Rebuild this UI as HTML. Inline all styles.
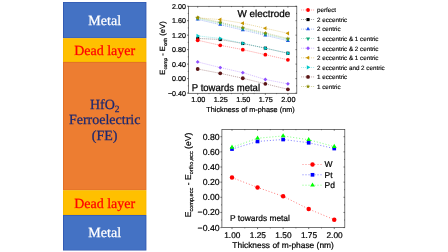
<!DOCTYPE html><html><head><meta charset="utf-8"><style>html,body{margin:0;padding:0;background:#fff}svg{display:block}text{font-family:"Liberation Sans",sans-serif;fill:#000;stroke:#000;stroke-width:0.2px;text-rendering:geometricPrecision}.s{font-family:"Liberation Serif",serif}</style></head><body>
<svg width="448" height="252" viewBox="0 0 448 252">
<rect width="448" height="252" fill="#fff"/>
<rect x="63" y="2" width="83.4" height="36.2" fill="#2f55b0"/>
<rect x="63.8" y="2.6" width="81.80000000000001" height="35.0" fill="#4472c4"/>
<rect x="63" y="38.2" width="83.4" height="23.799999999999997" fill="#f5b400"/>
<rect x="63.8" y="38.800000000000004" width="81.80000000000001" height="22.599999999999998" fill="#ffc000"/>
<rect x="63" y="62" width="83.4" height="128.2" fill="#dc6d22"/>
<rect x="63.8" y="62.6" width="81.80000000000001" height="126.99999999999999" fill="#ed7d31"/>
<rect x="63" y="190.2" width="83.4" height="24.80000000000001" fill="#f5b400"/>
<rect x="63.8" y="190.79999999999998" width="81.80000000000001" height="23.600000000000012" fill="#ffc000"/>
<rect x="63" y="215" width="83.4" height="35.5" fill="#2f55b0"/>
<rect x="63.8" y="215.6" width="81.80000000000001" height="34.3" fill="#4472c4"/>
<text class="s" x="104.7" y="25" font-size="14" text-anchor="middle" style="fill:#fff;stroke:#fff;stroke-width:0.25">Metal</text>
<text class="s" x="104.7" y="55" font-size="14" text-anchor="middle" style="fill:#f00;stroke:#f00;stroke-width:0.25">Dead layer</text>
<text class="s" x="104.7" y="108.75" font-size="14" text-anchor="middle" style="fill:#1c2870;stroke:#1c2870;stroke-width:0.25">HfO<tspan font-size="9.5" dy="2.8">2</tspan></text>
<text class="s" x="104.7" y="124.25" font-size="14" text-anchor="middle" style="fill:#1c2870;stroke:#1c2870;stroke-width:0.25">Ferroelectric</text>
<text class="s" x="104.7" y="140" font-size="14" text-anchor="middle" style="fill:#1c2870;stroke:#1c2870;stroke-width:0.25">(FE)</text>
<text class="s" x="104.7" y="207.75" font-size="14" text-anchor="middle" style="fill:#f00;stroke:#f00;stroke-width:0.25">Dead layer</text>
<text class="s" x="104.7" y="237.25" font-size="14" text-anchor="middle" style="fill:#fff;stroke:#fff;stroke-width:0.25">Metal</text>
<polyline points="197.70,38.42 220.25,39.50 242.80,43.49 265.35,48.19 287.90,53.26" fill="none" stroke="#000000" stroke-width="0.6" stroke-dasharray="1.1,0.9" opacity="0.6"/>
<rect x="196.14" y="36.85" width="3.13" height="3.13" fill="#000000"/>
<rect x="218.69" y="37.94" width="3.13" height="3.13" fill="#000000"/>
<rect x="241.24" y="41.92" width="3.13" height="3.13" fill="#000000"/>
<rect x="263.79" y="46.63" width="3.13" height="3.13" fill="#000000"/>
<rect x="286.34" y="51.70" width="3.13" height="3.13" fill="#000000"/>
<polyline points="197.70,40.23 220.25,45.30 242.80,49.64 265.35,54.71 287.90,59.78" fill="none" stroke="#ff0000" stroke-width="0.6" stroke-dasharray="1.1,0.9" opacity="0.6"/>
<circle cx="197.70" cy="40.23" r="1.90" fill="#ff0000"/>
<circle cx="220.25" cy="45.30" r="1.90" fill="#ff0000"/>
<circle cx="242.80" cy="49.64" r="1.90" fill="#ff0000"/>
<circle cx="265.35" cy="54.71" r="1.90" fill="#ff0000"/>
<circle cx="287.90" cy="59.78" r="1.90" fill="#ff0000"/>
<polyline points="197.70,19.41 220.25,24.66 242.80,30.09 265.35,35.34 287.90,40.77" fill="none" stroke="#2050e8" stroke-width="0.6" stroke-dasharray="1.1,0.9" opacity="0.6"/>
<polygon points="197.70,17.07 199.73,20.59 195.67,20.59" fill="#2050e8"/>
<polygon points="220.25,22.32 222.28,25.84 218.22,25.84" fill="#2050e8"/>
<polygon points="242.80,27.75 244.83,31.26 240.77,31.26" fill="#2050e8"/>
<polygon points="265.35,33.00 267.38,36.51 263.32,36.51" fill="#2050e8"/>
<polygon points="287.90,38.43 289.93,41.94 285.87,41.94" fill="#2050e8"/>
<polyline points="197.70,18.33 220.25,23.21 242.80,28.64 265.35,34.07 287.90,39.32" fill="none" stroke="#10a878" stroke-width="0.6" stroke-dasharray="1.1,0.9" opacity="0.6"/>
<polygon points="197.70,20.67 195.67,17.15 199.73,17.15" fill="#10a878"/>
<polygon points="220.25,25.56 218.22,22.04 222.28,22.04" fill="#10a878"/>
<polygon points="242.80,30.99 240.77,27.47 244.83,27.47" fill="#10a878"/>
<polygon points="265.35,36.42 263.32,32.90 267.38,32.90" fill="#10a878"/>
<polygon points="287.90,41.67 285.87,38.15 289.93,38.15" fill="#10a878"/>
<polyline points="197.70,61.95 220.25,67.56 242.80,72.63 265.35,79.51 287.90,83.85" fill="none" stroke="#9050ff" stroke-width="0.6" stroke-dasharray="1.1,0.9" opacity="0.6"/>
<polygon points="197.70,60.04 199.60,61.95 197.70,63.85 195.80,61.95" fill="#9050ff"/>
<polygon points="220.25,65.66 222.15,67.56 220.25,69.46 218.35,67.56" fill="#9050ff"/>
<polygon points="242.80,70.72 244.70,72.63 242.80,74.53 240.90,72.63" fill="#9050ff"/>
<polygon points="265.35,77.60 267.25,79.51 265.35,81.41 263.45,79.51" fill="#9050ff"/>
<polygon points="287.90,81.95 289.80,83.85 287.90,85.75 286.00,83.85" fill="#9050ff"/>
<polyline points="197.70,17.78 220.25,19.59 242.80,23.21 265.35,28.28 287.90,33.35" fill="none" stroke="#c89600" stroke-width="0.6" stroke-dasharray="1.1,0.9" opacity="0.6"/>
<polygon points="195.35,17.78 198.87,15.75 198.87,19.82" fill="#c89600"/>
<polygon points="217.90,19.59 221.42,17.56 221.42,21.63" fill="#c89600"/>
<polygon points="240.45,23.21 243.97,21.18 243.97,25.25" fill="#c89600"/>
<polygon points="263.00,28.28 266.52,26.25 266.52,30.31" fill="#c89600"/>
<polygon points="285.55,33.35 289.07,31.32 289.07,35.38" fill="#c89600"/>
<polyline points="197.70,35.88 220.25,38.42 242.80,43.30 265.35,48.19 287.90,53.26" fill="none" stroke="#00c8c8" stroke-width="0.6" stroke-dasharray="1.1,0.9" opacity="0.6"/>
<polygon points="200.05,35.88 196.53,37.92 196.53,33.85" fill="#00c8c8"/>
<polygon points="222.60,38.42 219.08,40.45 219.08,36.39" fill="#00c8c8"/>
<polygon points="245.15,43.30 241.63,45.34 241.63,41.27" fill="#00c8c8"/>
<polygon points="267.70,48.19 264.18,50.22 264.18,46.16" fill="#00c8c8"/>
<polygon points="290.25,53.26 286.73,55.29 286.73,51.23" fill="#00c8c8"/>
<polyline points="197.70,69.01 220.25,73.35 242.80,78.24 265.35,83.85 287.90,89.28" fill="none" stroke="#5a1515" stroke-width="0.6" stroke-dasharray="1.1,0.9" opacity="0.6"/>
<circle cx="197.70" cy="69.01" r="1.90" fill="#5a1515"/>
<circle cx="220.25" cy="73.35" r="1.90" fill="#5a1515"/>
<circle cx="242.80" cy="78.24" r="1.90" fill="#5a1515"/>
<circle cx="265.35" cy="83.85" r="1.90" fill="#5a1515"/>
<circle cx="287.90" cy="89.28" r="1.90" fill="#5a1515"/>
<polyline points="197.70,17.42 220.25,22.31 242.80,27.56 265.35,32.99 287.90,38.42" fill="none" stroke="#8b8b00" stroke-width="0.6" stroke-dasharray="1.1,0.9" opacity="0.6"/>
<polygon points="197.70,15.21 198.25,16.67 199.80,16.74 198.59,17.71 199.00,19.21 197.70,18.36 196.40,19.21 196.81,17.71 195.60,16.74 197.15,16.67" fill="#8b8b00"/>
<polygon points="220.25,20.10 220.80,21.55 222.35,21.63 221.14,22.60 221.55,24.10 220.25,23.24 218.95,24.10 219.36,22.60 218.15,21.63 219.70,21.55" fill="#8b8b00"/>
<polygon points="242.80,25.35 243.35,26.80 244.90,26.88 243.69,27.85 244.10,29.35 242.80,28.49 241.50,29.35 241.91,27.85 240.70,26.88 242.25,26.80" fill="#8b8b00"/>
<polygon points="265.35,30.78 265.90,32.23 267.45,32.31 266.24,33.28 266.65,34.78 265.35,33.92 264.05,34.78 264.46,33.28 263.25,32.31 264.80,32.23" fill="#8b8b00"/>
<polygon points="287.90,36.21 288.45,37.66 290.00,37.74 288.79,38.71 289.20,40.21 287.90,39.35 286.60,40.21 287.01,38.71 285.80,37.74 287.35,37.66" fill="#8b8b00"/>
<rect x="188.6" y="6.3" width="108.20000000000002" height="87.0" fill="none" stroke="#3c3c3c" stroke-width="0.7"/>
<line x1="187.1" x2="188.6" y1="6.20" y2="6.20" stroke="#333" stroke-width="0.7"/>
<line x1="296.8" x2="295.5" y1="6.20" y2="6.20" stroke="#333" stroke-width="0.7"/>
<text x="185.9" y="8.80" font-size="7.1" text-anchor="end">2.00</text>
<line x1="187.1" x2="188.6" y1="20.68" y2="20.68" stroke="#333" stroke-width="0.7"/>
<line x1="296.8" x2="295.5" y1="20.68" y2="20.68" stroke="#333" stroke-width="0.7"/>
<text x="185.9" y="23.28" font-size="7.1" text-anchor="end">1.60</text>
<line x1="187.1" x2="188.6" y1="35.16" y2="35.16" stroke="#333" stroke-width="0.7"/>
<line x1="296.8" x2="295.5" y1="35.16" y2="35.16" stroke="#333" stroke-width="0.7"/>
<text x="185.9" y="37.76" font-size="7.1" text-anchor="end">1.20</text>
<line x1="187.1" x2="188.6" y1="49.64" y2="49.64" stroke="#333" stroke-width="0.7"/>
<line x1="296.8" x2="295.5" y1="49.64" y2="49.64" stroke="#333" stroke-width="0.7"/>
<text x="185.9" y="52.24" font-size="7.1" text-anchor="end">0.80</text>
<line x1="187.1" x2="188.6" y1="64.12" y2="64.12" stroke="#333" stroke-width="0.7"/>
<line x1="296.8" x2="295.5" y1="64.12" y2="64.12" stroke="#333" stroke-width="0.7"/>
<text x="185.9" y="66.72" font-size="7.1" text-anchor="end">0.40</text>
<line x1="187.1" x2="188.6" y1="78.60" y2="78.60" stroke="#333" stroke-width="0.7"/>
<line x1="296.8" x2="295.5" y1="78.60" y2="78.60" stroke="#333" stroke-width="0.7"/>
<text x="185.9" y="81.20" font-size="7.1" text-anchor="end">0.00</text>
<line x1="187.1" x2="188.6" y1="93.08" y2="93.08" stroke="#333" stroke-width="0.7"/>
<line x1="296.8" x2="295.5" y1="93.08" y2="93.08" stroke="#333" stroke-width="0.7"/>
<text x="185.9" y="95.68" font-size="7.1" text-anchor="end">−0.40</text>
<line x1="187.79999999999998" x2="188.6" y1="13.44" y2="13.44" stroke="#333" stroke-width="0.7"/>
<line x1="296.8" x2="296.0" y1="13.44" y2="13.44" stroke="#333" stroke-width="0.7"/>
<line x1="187.79999999999998" x2="188.6" y1="27.92" y2="27.92" stroke="#333" stroke-width="0.7"/>
<line x1="296.8" x2="296.0" y1="27.92" y2="27.92" stroke="#333" stroke-width="0.7"/>
<line x1="187.79999999999998" x2="188.6" y1="42.40" y2="42.40" stroke="#333" stroke-width="0.7"/>
<line x1="296.8" x2="296.0" y1="42.40" y2="42.40" stroke="#333" stroke-width="0.7"/>
<line x1="187.79999999999998" x2="188.6" y1="56.88" y2="56.88" stroke="#333" stroke-width="0.7"/>
<line x1="296.8" x2="296.0" y1="56.88" y2="56.88" stroke="#333" stroke-width="0.7"/>
<line x1="187.79999999999998" x2="188.6" y1="71.36" y2="71.36" stroke="#333" stroke-width="0.7"/>
<line x1="296.8" x2="296.0" y1="71.36" y2="71.36" stroke="#333" stroke-width="0.7"/>
<line x1="187.79999999999998" x2="188.6" y1="85.84" y2="85.84" stroke="#333" stroke-width="0.7"/>
<line x1="296.8" x2="296.0" y1="85.84" y2="85.84" stroke="#333" stroke-width="0.7"/>
<line x1="197.70" x2="197.70" y1="93.3" y2="94.8" stroke="#333" stroke-width="0.7"/>
<line x1="197.70" x2="197.70" y1="6.3" y2="7.6" stroke="#333" stroke-width="0.7"/>
<text x="198.20" y="102.1" font-size="7.25" text-anchor="middle">1.00</text>
<line x1="220.25" x2="220.25" y1="93.3" y2="94.8" stroke="#333" stroke-width="0.7"/>
<line x1="220.25" x2="220.25" y1="6.3" y2="7.6" stroke="#333" stroke-width="0.7"/>
<text x="220.75" y="102.1" font-size="7.25" text-anchor="middle">1.25</text>
<line x1="242.80" x2="242.80" y1="93.3" y2="94.8" stroke="#333" stroke-width="0.7"/>
<line x1="242.80" x2="242.80" y1="6.3" y2="7.6" stroke="#333" stroke-width="0.7"/>
<text x="243.30" y="102.1" font-size="7.25" text-anchor="middle">1.50</text>
<line x1="265.35" x2="265.35" y1="93.3" y2="94.8" stroke="#333" stroke-width="0.7"/>
<line x1="265.35" x2="265.35" y1="6.3" y2="7.6" stroke="#333" stroke-width="0.7"/>
<text x="265.85" y="102.1" font-size="7.25" text-anchor="middle">1.75</text>
<line x1="287.90" x2="287.90" y1="93.3" y2="94.8" stroke="#333" stroke-width="0.7"/>
<line x1="287.90" x2="287.90" y1="6.3" y2="7.6" stroke="#333" stroke-width="0.7"/>
<text x="288.40" y="102.1" font-size="7.25" text-anchor="middle">2.00</text>
<line x1="208.97" x2="208.97" y1="93.3" y2="94.1" stroke="#333" stroke-width="0.7"/>
<line x1="208.97" x2="208.97" y1="6.3" y2="7.1" stroke="#333" stroke-width="0.7"/>
<line x1="231.52" x2="231.52" y1="93.3" y2="94.1" stroke="#333" stroke-width="0.7"/>
<line x1="231.52" x2="231.52" y1="6.3" y2="7.1" stroke="#333" stroke-width="0.7"/>
<line x1="254.07" x2="254.07" y1="93.3" y2="94.1" stroke="#333" stroke-width="0.7"/>
<line x1="254.07" x2="254.07" y1="6.3" y2="7.1" stroke="#333" stroke-width="0.7"/>
<line x1="276.62" x2="276.62" y1="93.3" y2="94.1" stroke="#333" stroke-width="0.7"/>
<line x1="276.62" x2="276.62" y1="6.3" y2="7.1" stroke="#333" stroke-width="0.7"/>
<text x="250.5" y="111.9" font-size="7.3" text-anchor="middle">Thickness of m-phase (nm)</text>
<text transform="translate(165.0,48) rotate(-90)" font-size="7.6" text-anchor="middle">E<tspan font-size="4.8" dy="1.5">comp</tspan><tspan dy="-1.5"> - E</tspan><tspan font-size="4.8" dy="1.5">orth</tspan><tspan dy="-1.5"> (eV)</tspan></text>
<text transform="translate(237.4,17.1) scale(0.99,1)" font-size="10" style="stroke-width:0.25px;text-rendering:geometricPrecision">W electrode</text>
<text transform="translate(191.8,91.2) scale(0.954,1)" font-size="10" style="stroke-width:0.25px;text-rendering:geometricPrecision">P towards metal</text>
<line x1="301" x2="315" y1="10.00" y2="10.00" stroke="#ff0000" stroke-width="0.6" stroke-dasharray="1.1,0.9" opacity="0.6"/>
<circle cx="308.00" cy="10.00" r="1.90" fill="#ff0000"/>
<text x="317" y="12.30" font-size="6.25" style="stroke-width:0.14px">perfect</text>
<line x1="301" x2="315" y1="19.56" y2="19.56" stroke="#000000" stroke-width="0.6" stroke-dasharray="1.1,0.9" opacity="0.6"/>
<rect x="306.44" y="18.00" width="3.13" height="3.13" fill="#000000"/>
<text x="317" y="21.86" font-size="6.25" style="stroke-width:0.14px">2 eccentric</text>
<line x1="301" x2="315" y1="29.12" y2="29.12" stroke="#2050e8" stroke-width="0.6" stroke-dasharray="1.1,0.9" opacity="0.6"/>
<polygon points="308.00,26.77 310.03,30.29 305.97,30.29" fill="#2050e8"/>
<text x="317" y="31.42" font-size="6.25" style="stroke-width:0.14px">2 centric</text>
<line x1="301" x2="315" y1="38.68" y2="38.68" stroke="#10a878" stroke-width="0.6" stroke-dasharray="1.1,0.9" opacity="0.6"/>
<polygon points="308.00,41.03 305.97,37.51 310.03,37.51" fill="#10a878"/>
<text x="317" y="40.98" font-size="6.25" style="stroke-width:0.14px">1 eccentric &amp; 1 centric</text>
<line x1="301" x2="315" y1="48.24" y2="48.24" stroke="#9050ff" stroke-width="0.6" stroke-dasharray="1.1,0.9" opacity="0.6"/>
<polygon points="308.00,46.34 309.90,48.24 308.00,50.14 306.10,48.24" fill="#9050ff"/>
<text x="317" y="50.54" font-size="6.25" style="stroke-width:0.14px">1 eccentric &amp; 2 centric</text>
<line x1="301" x2="315" y1="57.80" y2="57.80" stroke="#c89600" stroke-width="0.6" stroke-dasharray="1.1,0.9" opacity="0.6"/>
<polygon points="305.65,57.80 309.17,55.77 309.17,59.83" fill="#c89600"/>
<text x="317" y="60.10" font-size="6.25" style="stroke-width:0.14px">2 eccentric &amp; 1 centric</text>
<line x1="301" x2="315" y1="67.36" y2="67.36" stroke="#00c8c8" stroke-width="0.6" stroke-dasharray="1.1,0.9" opacity="0.6"/>
<polygon points="310.35,67.36 306.83,69.39 306.83,65.33" fill="#00c8c8"/>
<text x="317" y="69.66" font-size="6.25" style="stroke-width:0.14px">2 eccentric and 2 centric</text>
<line x1="301" x2="315" y1="76.92" y2="76.92" stroke="#5a1515" stroke-width="0.6" stroke-dasharray="1.1,0.9" opacity="0.6"/>
<circle cx="308.00" cy="76.92" r="1.90" fill="#5a1515"/>
<text x="317" y="79.22" font-size="6.25" style="stroke-width:0.14px">1 eccentric</text>
<line x1="301" x2="315" y1="86.48" y2="86.48" stroke="#8b8b00" stroke-width="0.6" stroke-dasharray="1.1,0.9" opacity="0.6"/>
<polygon points="308.00,84.27 308.55,85.72 310.10,85.80 308.89,86.77 309.30,88.27 308.00,87.42 306.70,88.27 307.11,86.77 305.90,85.80 307.45,85.72" fill="#8b8b00"/>
<text x="317" y="88.78" font-size="6.25" style="stroke-width:0.14px">1 centric</text>
<polyline points="232.00,177.61 257.56,187.45 283.12,196.32 308.69,209.04 334.25,219.65" fill="none" stroke="#ff0000" stroke-width="0.8" stroke-dasharray="1,2" opacity="0.65"/>
<circle cx="232.00" cy="177.61" r="2.24" fill="#ff0000"/>
<circle cx="257.56" cy="187.45" r="2.24" fill="#ff0000"/>
<circle cx="283.12" cy="196.32" r="2.24" fill="#ff0000"/>
<circle cx="308.69" cy="209.04" r="2.24" fill="#ff0000"/>
<circle cx="334.25" cy="219.65" r="2.24" fill="#ff0000"/>
<polyline points="232.00,149.05 257.56,141.47 283.12,139.50 308.69,142.76 334.25,148.52" fill="none" stroke="#0000ff" stroke-width="0.8" stroke-dasharray="1,2" opacity="0.65"/>
<rect x="230.16" y="147.21" width="3.68" height="3.68" fill="#0000ff"/>
<rect x="255.72" y="139.63" width="3.68" height="3.68" fill="#0000ff"/>
<rect x="281.29" y="137.66" width="3.68" height="3.68" fill="#0000ff"/>
<rect x="306.85" y="140.92" width="3.68" height="3.68" fill="#0000ff"/>
<rect x="332.41" y="146.68" width="3.68" height="3.68" fill="#0000ff"/>
<polyline points="232.00,147.31 257.56,138.22 283.12,135.94 308.69,139.73 334.25,146.55" fill="none" stroke="#00ff00" stroke-width="0.8" stroke-dasharray="1,2" opacity="0.65"/>
<polygon points="232.00,144.55 234.39,148.69 229.61,148.69" fill="#00ff00"/>
<polygon points="257.56,135.46 259.95,139.59 255.17,139.59" fill="#00ff00"/>
<polygon points="283.12,133.18 285.52,137.32 280.73,137.32" fill="#00ff00"/>
<polygon points="308.69,136.97 311.08,141.11 306.30,141.11" fill="#00ff00"/>
<polygon points="334.25,143.79 336.64,147.93 331.86,147.93" fill="#00ff00"/>
<rect x="221.9" y="129.4" width="122.9" height="98.19999999999999" fill="none" stroke="#3c3c3c" stroke-width="0.7"/>
<line x1="220.4" x2="221.9" y1="136.70" y2="136.70" stroke="#333" stroke-width="0.7"/>
<line x1="344.8" x2="343.5" y1="136.70" y2="136.70" stroke="#333" stroke-width="0.7"/>
<text x="219.6" y="139.70" font-size="8.7" text-anchor="end">0.80</text>
<line x1="220.4" x2="221.9" y1="151.85" y2="151.85" stroke="#333" stroke-width="0.7"/>
<line x1="344.8" x2="343.5" y1="151.85" y2="151.85" stroke="#333" stroke-width="0.7"/>
<text x="219.6" y="154.85" font-size="8.7" text-anchor="end">0.60</text>
<line x1="220.4" x2="221.9" y1="167.00" y2="167.00" stroke="#333" stroke-width="0.7"/>
<line x1="344.8" x2="343.5" y1="167.00" y2="167.00" stroke="#333" stroke-width="0.7"/>
<text x="219.6" y="170.00" font-size="8.7" text-anchor="end">0.40</text>
<line x1="220.4" x2="221.9" y1="182.15" y2="182.15" stroke="#333" stroke-width="0.7"/>
<line x1="344.8" x2="343.5" y1="182.15" y2="182.15" stroke="#333" stroke-width="0.7"/>
<text x="219.6" y="185.15" font-size="8.7" text-anchor="end">0.20</text>
<line x1="220.4" x2="221.9" y1="197.30" y2="197.30" stroke="#333" stroke-width="0.7"/>
<line x1="344.8" x2="343.5" y1="197.30" y2="197.30" stroke="#333" stroke-width="0.7"/>
<text x="219.6" y="200.30" font-size="8.7" text-anchor="end">0.00</text>
<line x1="220.4" x2="221.9" y1="212.45" y2="212.45" stroke="#333" stroke-width="0.7"/>
<line x1="344.8" x2="343.5" y1="212.45" y2="212.45" stroke="#333" stroke-width="0.7"/>
<text x="219.6" y="215.45" font-size="8.7" text-anchor="end">−0.20</text>
<line x1="220.4" x2="221.9" y1="227.60" y2="227.60" stroke="#333" stroke-width="0.7"/>
<line x1="344.8" x2="343.5" y1="227.60" y2="227.60" stroke="#333" stroke-width="0.7"/>
<text x="219.6" y="230.60" font-size="8.7" text-anchor="end">−0.40</text>
<line x1="221.1" x2="221.9" y1="144.28" y2="144.28" stroke="#333" stroke-width="0.7"/>
<line x1="344.8" x2="344.0" y1="144.28" y2="144.28" stroke="#333" stroke-width="0.7"/>
<line x1="221.1" x2="221.9" y1="159.43" y2="159.43" stroke="#333" stroke-width="0.7"/>
<line x1="344.8" x2="344.0" y1="159.43" y2="159.43" stroke="#333" stroke-width="0.7"/>
<line x1="221.1" x2="221.9" y1="174.58" y2="174.58" stroke="#333" stroke-width="0.7"/>
<line x1="344.8" x2="344.0" y1="174.58" y2="174.58" stroke="#333" stroke-width="0.7"/>
<line x1="221.1" x2="221.9" y1="189.73" y2="189.73" stroke="#333" stroke-width="0.7"/>
<line x1="344.8" x2="344.0" y1="189.73" y2="189.73" stroke="#333" stroke-width="0.7"/>
<line x1="221.1" x2="221.9" y1="204.88" y2="204.88" stroke="#333" stroke-width="0.7"/>
<line x1="344.8" x2="344.0" y1="204.88" y2="204.88" stroke="#333" stroke-width="0.7"/>
<line x1="221.1" x2="221.9" y1="220.03" y2="220.03" stroke="#333" stroke-width="0.7"/>
<line x1="344.8" x2="344.0" y1="220.03" y2="220.03" stroke="#333" stroke-width="0.7"/>
<line x1="232.00" x2="232.00" y1="227.6" y2="229.1" stroke="#333" stroke-width="0.7"/>
<line x1="232.00" x2="232.00" y1="129.4" y2="130.70000000000002" stroke="#333" stroke-width="0.7"/>
<text x="232.30" y="237.7" font-size="8.3" text-anchor="middle">1.00</text>
<line x1="257.56" x2="257.56" y1="227.6" y2="229.1" stroke="#333" stroke-width="0.7"/>
<line x1="257.56" x2="257.56" y1="129.4" y2="130.70000000000002" stroke="#333" stroke-width="0.7"/>
<text x="257.86" y="237.7" font-size="8.3" text-anchor="middle">1.25</text>
<line x1="283.12" x2="283.12" y1="227.6" y2="229.1" stroke="#333" stroke-width="0.7"/>
<line x1="283.12" x2="283.12" y1="129.4" y2="130.70000000000002" stroke="#333" stroke-width="0.7"/>
<text x="283.43" y="237.7" font-size="8.3" text-anchor="middle">1.50</text>
<line x1="308.69" x2="308.69" y1="227.6" y2="229.1" stroke="#333" stroke-width="0.7"/>
<line x1="308.69" x2="308.69" y1="129.4" y2="130.70000000000002" stroke="#333" stroke-width="0.7"/>
<text x="308.99" y="237.7" font-size="8.3" text-anchor="middle">1.75</text>
<line x1="334.25" x2="334.25" y1="227.6" y2="229.1" stroke="#333" stroke-width="0.7"/>
<line x1="334.25" x2="334.25" y1="129.4" y2="130.70000000000002" stroke="#333" stroke-width="0.7"/>
<text x="334.55" y="237.7" font-size="8.3" text-anchor="middle">2.00</text>
<line x1="244.78" x2="244.78" y1="227.6" y2="228.4" stroke="#333" stroke-width="0.7"/>
<line x1="244.78" x2="244.78" y1="129.4" y2="130.20000000000002" stroke="#333" stroke-width="0.7"/>
<line x1="270.34" x2="270.34" y1="227.6" y2="228.4" stroke="#333" stroke-width="0.7"/>
<line x1="270.34" x2="270.34" y1="129.4" y2="130.20000000000002" stroke="#333" stroke-width="0.7"/>
<line x1="295.91" x2="295.91" y1="227.6" y2="228.4" stroke="#333" stroke-width="0.7"/>
<line x1="295.91" x2="295.91" y1="129.4" y2="130.20000000000002" stroke="#333" stroke-width="0.7"/>
<line x1="321.47" x2="321.47" y1="227.6" y2="228.4" stroke="#333" stroke-width="0.7"/>
<line x1="321.47" x2="321.47" y1="129.4" y2="130.20000000000002" stroke="#333" stroke-width="0.7"/>
<text x="283.1" y="247.6" font-size="8.4" text-anchor="middle">Thickness of m-phase (nm)</text>
<text transform="translate(191,175) rotate(-90)" font-size="8.6" text-anchor="middle">E<tspan font-size="5.6" dy="2">comp,ecc</tspan><tspan dy="-2"> - E</tspan><tspan font-size="5.6" dy="2">ortho,ecc</tspan><tspan dy="-2"> (eV)</tspan></text>
<text x="230" y="220.5" font-size="8.4">P towards metal</text>
<line x1="302.5" x2="322" y1="164.40" y2="164.40" stroke="#ff0000" stroke-width="0.8" stroke-dasharray="1,2" opacity="0.65"/>
<circle cx="312.50" cy="164.40" r="2.24" fill="#ff0000"/>
<text x="324.5" y="167.40" font-size="8.5">W</text>
<line x1="302.5" x2="322" y1="174.80" y2="174.80" stroke="#0000ff" stroke-width="0.8" stroke-dasharray="1,2" opacity="0.65"/>
<rect x="310.66" y="172.96" width="3.68" height="3.68" fill="#0000ff"/>
<text x="324.5" y="177.80" font-size="8.5">Pt</text>
<line x1="302.5" x2="322" y1="185.20" y2="185.20" stroke="#00ff00" stroke-width="0.8" stroke-dasharray="1,2" opacity="0.65"/>
<polygon points="312.50,182.44 314.89,186.58 310.11,186.58" fill="#00ff00"/>
<text x="324.5" y="188.20" font-size="8.5">Pd</text>
</svg></body></html>
